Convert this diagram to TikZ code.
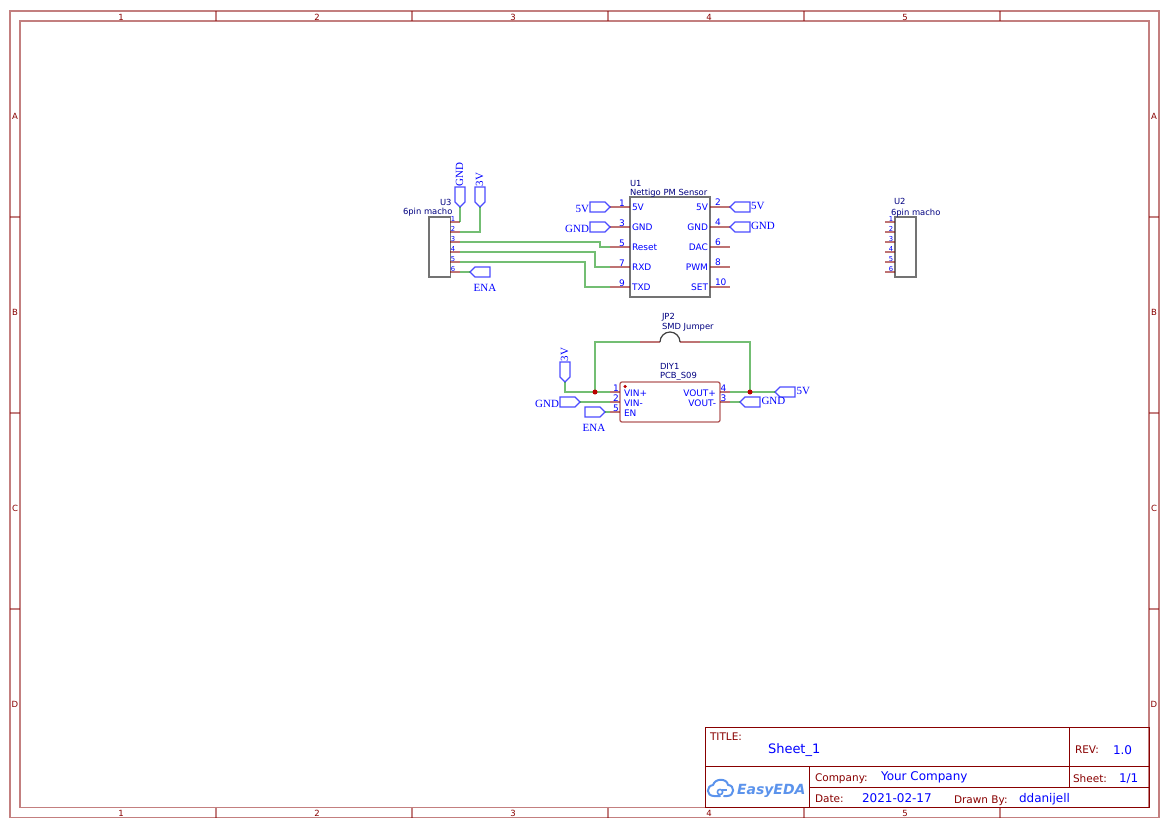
\documentclass[tikz,border=0pt]{standalone}
\usepackage{fontspec}
\setmainfont{DejaVu Sans}
\newfontfamily\netfont{Liberation Serif}
\usetikzlibrary{calc}
\definecolor{frameC}{HTML}{880000}
\definecolor{pinC}{HTML}{880000}
\definecolor{wireC}{HTML}{008800}
\definecolor{txtB}{HTML}{0000FF}
\definecolor{nameC}{HTML}{000080}
\definecolor{logoC}{HTML}{5B93EC}
\definecolor{dotC}{HTML}{BB0000}
\newcounter{lbl}
\newcommand\lab[3][]{\stepcounter{lbl}\node[txt,#1] (lbl\arabic{lbl}) at (#2) {#3};}
\tikzset{
  txt/.style={inner sep=0pt,outer sep=0pt,anchor=base west},
  endR/.style={anchor=base east},
  mid/.style={anchor=base},
  frameline/.style={draw=frameC,line width=1.4pt,draw opacity=.5},
  tbline/.style={draw=frameC,line width=1pt},
  pinline/.style={draw=pinC,line width=1.4pt,draw opacity=.55},
  wire/.style={draw=wireC,line width=1.5pt,draw opacity=.55,line join=miter},
  comp/.style={draw=black,draw opacity=.55,line width=1.7pt,outer sep=0pt},
  diy/.style={draw=pinC,draw opacity=.65,line width=1.3pt,rounded corners=2pt,outer sep=0pt},
  netflag/.style={draw=txtB,line width=1.3pt,draw opacity=.7},
  pinnum/.style={font=\fontsize{9}{9}\selectfont,text=txtB,mid},
  smallnum/.style={font=\fontsize{6.8}{7}\selectfont,text=txtB,mid},
  pintxt/.style={font=\fontsize{9}{9}\selectfont,text=txtB},
  netlab/.style={font=\netfont\fontsize{11}{11}\selectfont,text=txtB},
  reflab/.style={font=\fontsize{8.4}{9}\selectfont,text=nameC},
  framelab/.style={font=\fontsize{8.5}{9}\selectfont,text=frameC,mid},
  tbred/.style={font=\fontsize{10.5}{10}\selectfont,text=frameC},
  tbblue/.style={font=\fontsize{12}{11}\selectfont,text=txtB},
  dot/.style={circle,fill=dotC,draw=none,minimum size=5pt,inner sep=0pt},
  pics/flagshape/.style={code={\draw[netflag] (0,0)--(5,-5)--(20,-5)--(20,5)--(5,5)--cycle;}}
}
\begin{document}
\begin{tikzpicture}[x=1pt,y=-1pt]
\useasboundingbox (0,0) rectangle (1169,828);
% sheet frame
\path[frameline] (10,11) rectangle (1159,817.5);
\path[frameline] (20,21) rectangle (1149,807.5);
\foreach \x in {216,412,608,804,1000}{
  \path[frameline] (\x,11)--(\x,21);
  \path[frameline] (\x,807.5)--(\x,817.5);
}
\foreach \y in {217,413,609}{
  \path[frameline] (10,\y)--(20,\y);
  \path[frameline] (1149,\y)--(1159,\y);
}
\foreach \x/\t in {121/1,317/2,513/3,709/4,905/5}{
  \lab[framelab]{\x,20}{\t}
  \lab[framelab]{\x,816}{\t}
}
\foreach \y/\t in {119/A,315/B,511/C,707/D}{
  \lab[framelab]{15,\y}{\t}
  \lab[framelab]{1154,\y}{\t}
}
% title block
\path[tbline] (705,727.5) rectangle (1149,807);
\path[tbline] (705,766.5)--(1149,766.5);
\path[tbline] (1069.5,727.5)--(1069.5,787);
\path[tbline] (809.5,766.5)--(809.5,807);
\path[tbline] (809.5,787)--(1149,787);
\lab[tbred]{710,740}{TITLE:}
\lab[font=\fontsize{13}{14}\selectfont,text=txtB]{768,753}{Sheet\_1}
\lab[tbred]{1075,753}{REV:}
\lab[font=\fontsize{12}{12}\selectfont,text=txtB]{1113,754}{1.0}
\lab[tbred]{815,781}{Company:}
\lab[tbblue]{881,780}{Your Company}
\lab[tbred]{1073,782}{Sheet:}
\lab[tbblue]{1119,782}{1/1}
\lab[tbred]{815,802}{Date:}
\lab[tbblue]{862,802}{2021-02-17}
\lab[tbred]{954,803}{Drawn By:}
\lab[tbblue]{1019,802}{ddanijell}
% logo
\draw[logoC,line width=2pt,line cap=round,line join=round]
  (720,796) -- (714,796) .. controls (706,796) and (706,786) .. (713,785)
  .. controls (715,778) and (727,778) .. (728,785)
  .. controls (735,785) and (735,796) .. (727,796) -- (724,796);
\draw[logoC,line width=1.6pt] (720,792) circle (2.6pt);
\draw[logoC,line width=1.6pt] (722,790) -- (727,790);
\lab[font=\bfseries\itshape\fontsize{14}{14}\selectfont,text=logoC]{737,794.5}{EasyEDA}
% U3
\coordinate (u3p1) at (460,222);\coordinate (u3p2) at (460,232);\coordinate (u3p3) at (460,242);
\coordinate (u3p4) at (460,252);\coordinate (u3p5) at (460,262);\coordinate (u3p6) at (460,272);
\node[comp,minimum width=21.5pt,minimum height=60pt,inner sep=0pt,anchor=north west] (U3) at (429,217) {};
\foreach \i in {1,...,6}{
  \path[pinline] ($(u3p\i)+(-10,0)$)--(u3p\i);
  \lab[smallnum]{453,{211+10*\i}}{\i}
}
\lab[reflab]{440,205}{U3}
\lab[reflab]{403,214}{6pin macho}
% U2
\node[comp,minimum width=21pt,minimum height=60pt,inner sep=0pt,anchor=north west] (U2) at (895,217) {};
\foreach \i in {1,...,6}{
  \path[pinline] (885,{212+10*\i})--(895,{212+10*\i});
  \lab[smallnum]{891,{211.5+10*\i}}{\i}
}
\lab[reflab]{894,204}{U2}
\lab[reflab]{891,215.5}{6pin macho}
% U1
\node[comp,minimum width=80pt,minimum height=100pt,inner sep=0pt,anchor=north west] (U1) at (630,197) {};
\lab[reflab]{630,186}{U1}
\lab[reflab]{630,195.5}{Nettigo PM Sensor}
\foreach \n/\y/\t in {1/207/5V,3/227/GND,5/247/Reset,7/267/RXD,9/287/TXD}{
  \coordinate (u1l\n) at (610,\y);
  \path[pinline] (u1l\n)--(630,\y);
  \lab[pinnum]{622,\y-1}{\n}
  \lab[pintxt]{632,\y+3}{\t}
}
\foreach \n/\y/\t in {2/207/5V,4/227/GND,6/247/DAC,8/267/PWM,10/287/SET}{
  \coordinate (u1r\n) at (730,\y);
  \path[pinline] (710,\y)--(u1r\n);
  \lab[pinnum,anchor=base west]{715,\y-2}{\n}
  \lab[pintxt,endR]{708,\y+3}{\t}
}
% JP2
\coordinate (jpL) at (640,342);\coordinate (jpR) at (700,342);
\path[pinline] (jpL)--(660,342);
\path[pinline] (680,342)--(jpR);
\draw[black,draw opacity=.75,line width=1.2pt] (660,342) arc[start angle=180,end angle=0,radius=10,y radius=-10];
\lab[reflab]{662,319}{JP2}
\lab[reflab]{662,329}{SMD Jumper}
% DIY1
\node[diy,minimum width=100pt,minimum height=40pt,inner sep=0pt,anchor=north west] (DIY1) at (620,382) {};
\node[circle,fill=dotC,minimum size=3.5pt,inner sep=0pt] (pin1dot) at (625,386.5) {};
\lab[reflab]{660,369}{DIY1}
\lab[reflab]{660,378}{PCB\_S09}
\foreach \n/\y/\t in {1/392/VIN+,2/402/VIN-,5/412/EN}{
  \coordinate (dl\n) at (610,\y);
  \path[pinline] (dl\n)--(620,\y);
  \lab[pinnum]{616,\y-1}{\n}
  \lab[pintxt]{624,\y+4}{\t}
}
\foreach \n/\y/\t in {4/392/VOUT+,3/402/VOUT-}{
  \coordinate (dr\n) at (730,\y);
  \path[pinline] (720,\y)--(dr\n);
  \lab[pinnum]{723.5,\y-1}{\n}
  \lab[pintxt,endR]{716,\y+4}{\t}
}
% net flags: tips
\coordinate (fGNDa) at (460,207);\coordinate (f3Va) at (480,207);\coordinate (fENAa) at (470,272);
\coordinate (f5Vl) at (610,207);\coordinate (fGNDl) at (610,227);
\coordinate (f5Vr) at (730,207);\coordinate (fGNDr) at (730,227);
\coordinate (f3Vb) at (565,382);\coordinate (fGNDb) at (580,402);\coordinate (fENAb) at (605,412);
\coordinate (f5Vc) at (775,392);\coordinate (fGNDc) at (740,402);
\pic[rotate=90] at (fGNDa) {flagshape};
\pic[rotate=90] at (f3Va) {flagshape};
\pic at (fENAa) {flagshape};
\pic[rotate=180] at (f5Vl) {flagshape};
\pic[rotate=180] at (fGNDl) {flagshape};
\pic at (f5Vr) {flagshape};
\pic at (fGNDr) {flagshape};
\pic[rotate=90] at (f3Vb) {flagshape};
\pic[rotate=180] at (fGNDb) {flagshape};
\pic[rotate=180] at (fENAb) {flagshape};
\pic at (f5Vc) {flagshape};
\pic at (fGNDc) {flagshape};
% net labels
\lab[netlab,rotate=90]{463,186}{GND}
\lab[netlab,rotate=90]{483,186}{3V}
\lab[netlab,mid]{485,291}{ENA}
\lab[netlab,endR]{589,212}{5V}
\lab[netlab,endR]{589,232}{GND}
\lab[netlab]{751,209.5}{5V}
\lab[netlab]{751,229.5}{GND}
\lab[netlab,rotate=90]{568,361}{3V}
\lab[netlab,endR]{559,407}{GND}
\lab[netlab,mid]{594,431}{ENA}
\lab[netlab]{796.5,394}{5V}
\lab[netlab]{761.5,404.5}{GND}
% wires
\coordinate (jA) at (595,392);\coordinate (jB) at (750,392);
\path[wire] (u3p1)--(fGNDa);
\path[wire] (u3p2)-|(f3Va);
\path[wire] (u3p3)--(600,242)--(600,247)--(u1l5);
\path[wire] (u3p4)--(595,252)--(595,267)--(u1l7);
\path[wire] (u3p5)--(585,262)--(585,287)--(u1l9);
\path[wire] (u3p6)--(fENAa);
\path[wire] (jpL)-|(jA);
\path[wire] (jpR)-|(jB);
\path[wire] (f3Vb)|-(dl1);
\path[wire] (fGNDb)--(dl2);
\path[wire] (fENAb)--(dl5);
\path[wire] (dr4)--(f5Vc);
\path[wire] (dr3)--(fGNDc);
\node[dot] (jdotA) at (jA) {};
\node[dot] (jdotB) at (jB) {};
\end{tikzpicture}
\end{document}
